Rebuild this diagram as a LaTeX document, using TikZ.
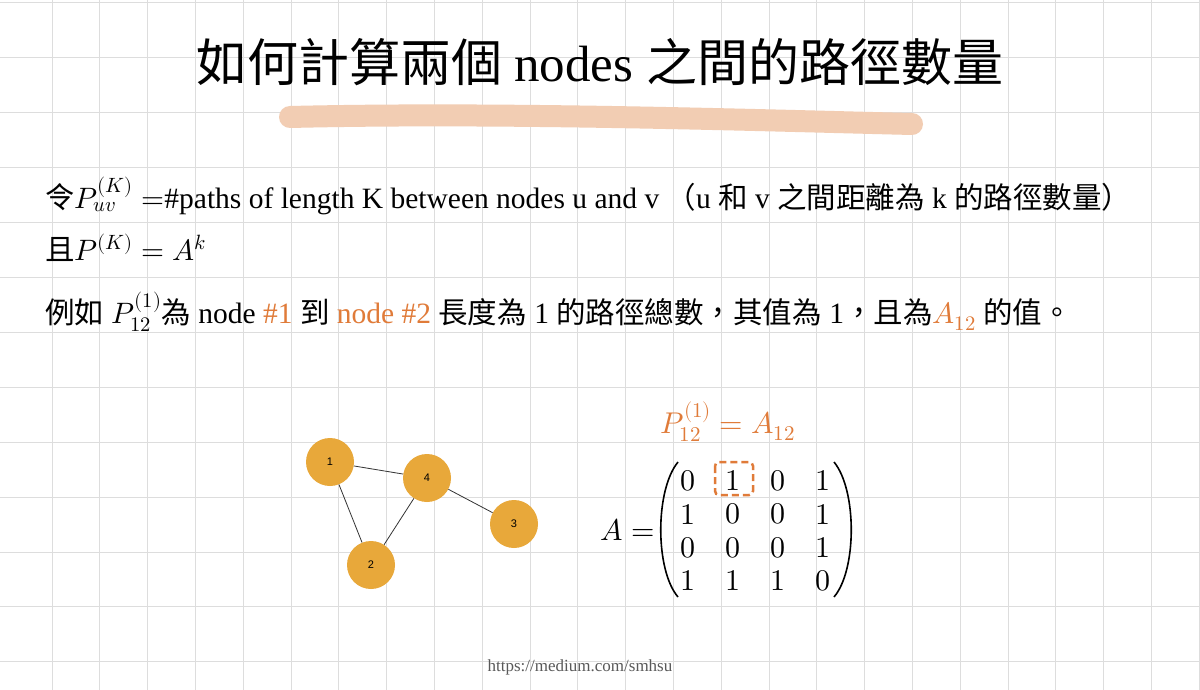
\documentclass[tikz,border=0pt]{standalone}
\usepackage{fontspec}
\usepackage{unicode-math}
\setmainfont{Liberation Serif}
\setmathfont{Latin Modern Math}
\newfontfamily\cjk{Noto Sans CJK TC}
\newfontfamily\hv{Liberation Sans}
\definecolor{gridc}{HTML}{DDDDDD}
\definecolor{nodec}{HTML}{E8A83A}
\definecolor{orc}{HTML}{E07B39}
\definecolor{brush}{HTML}{F2CDB3}
\begin{document}
\begin{tikzpicture}[x=1pt,y=-1pt,
  vtx/.style={circle,fill=nodec,minimum size=48pt,inner sep=0pt,font=\hv\fontsize{11}{13}\selectfont},
  edge/.style={draw=black!80,line width=0.8pt},
  body/.style={anchor=base west,inner sep=0pt,font=\fontsize{29.5}{32}\selectfont},
  ent/.style={inner sep=0pt,font=\fontsize{30}{32}\selectfont},
  par/.style={line width=1.6pt}]
\fill[white] (0,0) rectangle (1200,690);
\useasboundingbox (0,0) rectangle (1200,690);
\foreach \i in {0,...,24} \draw[gridc,line width=1pt] ({52+47.8*\i},0) -- ({52+47.8*\i},690);
\foreach \j in {0,...,12} \draw[gridc,line width=1pt] (0,{3+54.9*\j}) -- (1200,{3+54.9*\j});
% brush
\draw[brush,line width=22pt,line cap=round] (290,117) .. controls (500,112) and (750,120) .. (912,124);
% title
\node[inner sep=0pt] (title) at (600,62) {\cjk\fontsize{51}{55}\selectfont 如何計算兩個 \rmfamily nodes \cjk 之間的路徑數量};
% body
\node[body] (l1) at (45,208) {{\cjk 令}$P_{uv}^{(K)}=$\#paths of length K between nodes u and v {\cjk（}u {\cjk 和} v {\cjk 之間距離為} k {\cjk 的路徑數量）}};
\node[body] (l2) at (45,260) {{\cjk 且}$P^{(K)}=A^k$};
\node[body] (l3) at (45,323) {{\cjk 例如} $P_{12}^{(1)}${\cjk 為} node \textcolor{orc}{\#1} {\cjk 到} \textcolor{orc}{node \#2} {\cjk 長度為} 1 {\cjk 的路徑總數，其值為} 1{\cjk ，且為}\textcolor{orc}{$A_{12}$} {\cjk 的值。}};
% graph
\node[vtx] (n1) at (330,462) {1};
\node[vtx] (n4) at (427,478) {4};
\node[vtx] (n3) at (514,524) {3};
\node[vtx] (n2) at (371,565) {2};
\draw[edge] (n1) -- (n4);
\draw[edge] (n1) -- (n2);
\draw[edge] (n2) -- (n4);
\draw[edge] (n4) -- (n3);
% matrix
\node[orc,ent] (lab) at (728,422) {$P_{12}^{(1)}=A_{12}$};
\node[ent] (aeq) at (628,530) {$A=$};
\foreach \r/\row in {0/{0,1,0,1},1/{1,0,0,1},2/{0,0,0,1},3/{1,1,1,0}} {
  \foreach \v [count=\c from 0] in \row
    \node[ent] (m\r\c) at ({688+45*\c},{481+33.3*\r}) {$\v$};
}
\coordinate (lpT) at (678,462);
\coordinate (lpB) at (678,597);
\coordinate (rpT) at (834,462);
\coordinate (rpB) at (834,597);
\draw[par] (lpT) .. controls (655,490) and (655,570) .. (lpB);
\draw[par] (rpT) .. controls (857,490) and (857,570) .. (rpB);
\draw[orc,line width=2.5pt,rounded corners=4pt,dash pattern=on 7pt off 4pt] (715,462) rectangle (753,495);
% footer
\node[gray!70!black,inner sep=0pt,font=\fontsize{17}{20}\selectfont] (foot) at (580,667) {https://medium.com/smhsu};
\end{tikzpicture}
\end{document}
